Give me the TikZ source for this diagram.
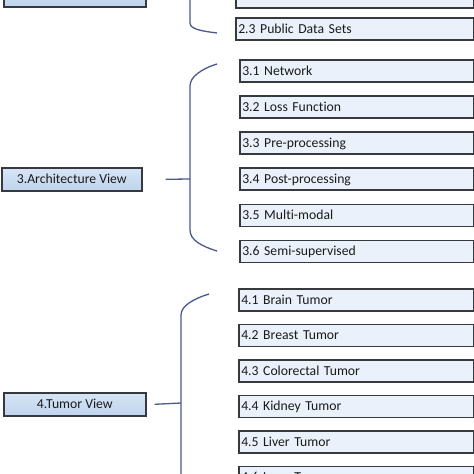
\documentclass[tikz,border=0pt]{standalone}
\usepackage{fontspec}
\setmainfont{Carlito}[Ligatures={NoCommon}]
\usetikzlibrary{calc}
\definecolor{subfill}{HTML}{EAF1FA}
\definecolor{headtop}{HTML}{D7E5F5}
\definecolor{headbot}{HTML}{BFD4EE}
\definecolor{boxline}{HTML}{36393E}
\definecolor{bracecol}{HTML}{4B5A8C}
\definecolor{textcol}{HTML}{1A1A1A}
\tikzset{
  sub/.style={draw=boxline, line width=1.6pt, fill=subfill, anchor=north west,
    minimum height=22pt, inner xsep=2.5pt, inner ysep=0pt, text width=#1, align=left,
    text=textcol, font=\fontsize{13.7}{16}\selectfont, text height=8.8pt, text depth=0pt},
  sub/.default=228.5pt,
  head/.style={draw=boxline, line width=1.6pt, top color=headtop, bottom color=headbot,
    anchor=north west, minimum height=23pt, minimum width=142pt, inner sep=0pt,
    text=textcol, font=\fontsize{13.7}{16}\selectfont, text height=8.8pt, text depth=0pt},
  bracel/.style={draw=bracecol, line width=1.3pt}
}
\begin{document}
\begin{tikzpicture}[x=1pt,y=-1pt]
\useasboundingbox (0,0) rectangle (474,474);
\fill[white] (0,0) rectangle (474,474);
% section 2
\node[head] (h2) at (3,-17) {};
\node[sub=232.5pt] (s22) at (235,-15) {};
\node[sub=232.5pt] (s23) at (235,17) {2.3 Public Data Sets};
\coordinate (b2top) at (190,-20);
\coordinate (b2a) at (190,23);
\coordinate (b2end) at (217,33);
\draw[bracel] (b2top) -- (b2a) .. controls (190,29) and (201,31) .. (b2end);
% section 3
\node[head, minimum width=140pt] (h3) at (1,167) {3.Architecture View};
\node[sub] (s31) at (239,59) {3.1 Network};
\node[sub] (s32) at (239,95) {3.2 Loss Function};
\node[sub] (s33) at (239,131) {3.3 Pre-processing};
\node[sub] (s34) at (239,167) {3.4 Post-processing};
\node[sub] (s35) at (239,203.5) {3.5 Multi-modal};
\node[sub] (s36) at (239,239.5) {3.6 Semi-supervised};
\coordinate (b3top) at (217,64);
\coordinate (b3a) at (190,86);
\coordinate (b3mid) at (190,179);
\coordinate (b3b) at (190,230);
\coordinate (b3end) at (217,251);
\draw[bracel] (b3top) .. controls (201,69) and (190,77) .. (b3a) -- (b3b)
  .. controls (190,240) and (201,246) .. (b3end);
\draw[bracel] ($(h3.east)+(23,0)$) -- (b3mid);
% section 4
\node[head] (h4) at (3,392) {4.Tumor View};
\node[sub=229.5pt] (s41) at (238,288) {4.1 Brain Tumor};
\node[sub=229.5pt] (s42) at (238,323.5) {4.2 Breast Tumor};
\node[sub=229.5pt] (s43) at (238,359) {4.3 Colorectal Tumor};
\node[sub=229.5pt] (s44) at (238,394.5) {4.4 Kidney Tumor};
\node[sub=229.5pt] (s45) at (238,430) {4.5 Liver Tumor};
\node[sub=229.5pt] (s46) at (238,465.5) {4.6 Lung Tumor};
\coordinate (b4top) at (209,294);
\coordinate (b4a) at (181,315);
\coordinate (b4mid) at (181,403);
\coordinate (b4bot) at (181,480);
\draw[bracel] (b4top) .. controls (193,299) and (181,306) .. (b4a) -- (b4bot);
\draw[bracel] ($(h4.east)+(8,0)$) -- (b4mid);
\end{tikzpicture}
\end{document}
